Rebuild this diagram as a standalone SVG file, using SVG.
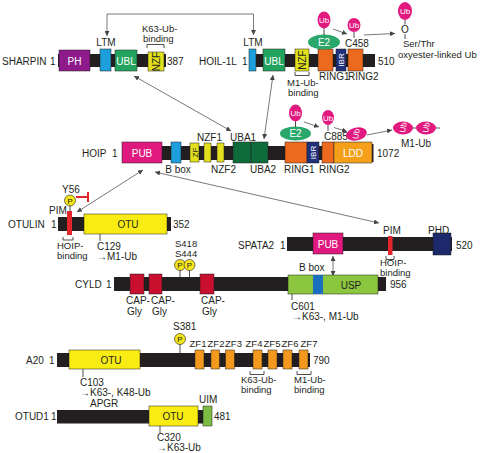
<svg xmlns="http://www.w3.org/2000/svg" width="480" height="453" viewBox="0 0 480 453">
<defs>
<marker id="ah" viewBox="0 0 6 6" refX="6" refY="3" markerWidth="5" markerHeight="5" orient="auto-start-reverse" markerUnits="userSpaceOnUse"><path d="M0,0 L6,3 L0,6 Z" fill="#444"/></marker>
<style>
text{font-family:"Liberation Sans",Arial,Helvetica,sans-serif;font-size:10px;fill:#231f20}
.w{fill:#fff}
.s{font-size:8px}
.n{font-size:9.5px}
.bar{fill:#231f20}
.d{stroke:#231f20;stroke-width:0.5}
.ln{stroke:#231f20;stroke-width:0.8;fill:none}
.cn{stroke:#555;stroke-width:0.8;fill:none;marker-start:url(#ah);marker-end:url(#ah)}
.ar{stroke:#555;stroke-width:0.8;fill:none;marker-end:url(#ah)}
.ub{fill:#e2197f}
.p{fill:#f5e61c;stroke:#231f20;stroke-width:0.6}
.m{text-anchor:middle}
</style>
</defs>
<rect width="480" height="453" fill="#fff"/>

<g id="connectors">
<path class="cn" d="M107,36 V14 H253.5 V35"/>
<path class="cn" d="M134,76 L231,131"/>
<path class="cn" d="M273,75 L264,139"/>
<path class="cn" d="M143,170 L77,212"/>
<path class="cn" d="M155,172 L379,223"/>
<path class="cn" d="M333,256 V276"/>
</g>

<g id="sharpin">
<text x="2" y="65">SHARPIN</text><text x="50" y="65">1</text>
<rect class="bar" x="58" y="54" width="108" height="13"/>
<rect class="d" x="59" y="50" width="31" height="21" fill="#8e1a8c"/>
<text class="w m" x="74.5" y="64.5">PH</text>
<rect class="d" x="100" y="49" width="11" height="22" fill="#1d9fdb"/>
<rect class="d" x="115" y="50" width="22" height="21" fill="#23a45e"/>
<text class="w m" x="126" y="64.5">UBL</text>
<rect class="d" x="148" y="52" width="16" height="19" fill="#e2e01c"/>
<text class="m" transform="translate(159.5,61.5) rotate(-90)">NZF</text>
<text x="167" y="65">387</text>
<text class="m" x="106" y="46">LTM</text>
<text class="n" x="142" y="32">K63-Ub-</text>
<text class="n" x="143" y="41.5">binding</text>
<path class="ln" d="M147,48 V44.5 H164 V48"/>
</g>

<g id="hoil1l">
<text x="199" y="65">HOIL-1L</text><text x="242" y="65">1</text>
<rect class="bar" x="249" y="54" width="126" height="13"/>
<rect class="d" x="249" y="49" width="7" height="22" fill="#1d9fdb"/>
<rect class="d" x="263" y="49" width="22" height="22" fill="#23a45e"/>
<text class="w m" x="274" y="64.5">UBL</text>
<rect class="d" x="295" y="49" width="14" height="22" fill="#e2e01c"/>
<text class="m" transform="translate(305.5,60) rotate(-90)">NZF</text>
<rect class="d" x="318" y="49" width="15" height="22" fill="#ec6a1d"/>
<rect class="d" x="336" y="49" width="10" height="22" fill="#21307a"/>
<text class="w m s" transform="translate(344,60) rotate(-90)">IBR</text>
<rect class="d" x="348" y="49" width="15" height="22" fill="#ec6a1d"/>
<text x="378" y="65">510</text>
<text class="m" x="253" y="46">LTM</text>
<text x="319" y="80">RING1</text>
<text x="348" y="80">RING2</text>
<path class="ln" d="M295,72 V75.5 H309 V72"/>
<text class="n" x="287" y="86">M1-Ub-</text>
<text class="n" x="288" y="96">binding</text>
<ellipse cx="324" cy="42" rx="16" ry="7.5" fill="#2aa76a"/>
<text class="w m" x="324" y="46">E2</text>
<line class="ln" x1="324" y1="28" x2="324" y2="35"/>
<ellipse class="ub" cx="324" cy="20" rx="6.5" ry="8.5"/>
<text class="w m s" x="324" y="23">Ub</text>
<path class="ar" d="M333,29 L347,34"/>
<ellipse class="ub" cx="354" cy="25" rx="6.5" ry="7"/>
<text class="w m s" x="354" y="28">Ub</text>
<line class="ln" x1="354" y1="32" x2="354" y2="38"/>
<text x="345" y="47">C458</text>
<path class="ar" d="M364,35 L395,33.5"/>
<ellipse class="ub" cx="405" cy="11" rx="7" ry="9"/>
<text class="w m s" x="405" y="14">Ub</text>
<line class="ln" x1="405" y1="20" x2="405" y2="24.5"/>
<text class="m" x="405" y="32.5">O</text>
<line class="ln" x1="405" y1="34" x2="405" y2="39"/>
<text class="n" x="403" y="47">Ser/Thr</text>
<text class="n" x="398" y="57.5">oxyester-linked Ub</text>
</g>

<g id="hoip">
<text x="82" y="157">HOIP</text><text x="112" y="157">1</text>
<rect class="bar" x="162" y="146" width="211" height="14"/>
<rect class="d" x="122" y="142" width="40" height="21" fill="#e0197e"/>
<text class="w m" x="142" y="156.5">PUB</text>
<rect class="d" x="171" y="142" width="10" height="21" fill="#1d9fdb"/>
<rect class="d" x="190" y="143" width="9" height="19" fill="#e2e01c"/>
<text class="m s" transform="translate(197.5,152.5) rotate(-90)">ZF</text>
<rect class="d" x="204" y="143" width="7" height="19" fill="#e2e01c"/>
<rect class="d" x="217" y="143" width="7" height="19" fill="#e2e01c"/>
<rect class="d" x="233" y="142" width="18" height="21" fill="#0e6b3a"/>
<rect class="d" x="251" y="142" width="17" height="21" fill="#0e6b3a"/>
<rect class="d" x="285" y="142" width="22" height="21" fill="#ec6a1d"/>
<rect class="d" x="307" y="142" width="12" height="21" fill="#21307a"/>
<text class="w m s" transform="translate(316,152.5) rotate(-90)">IBR</text>
<rect class="d" x="322" y="142" width="12" height="21" fill="#ec6a1d"/>
<rect class="d" x="334" y="142" width="38" height="21" fill="#f5a01b"/>
<text class="w m" x="353" y="156.5">LDD</text>
<rect class="bar" x="372" y="144" width="1.5" height="18"/>
<text x="377" y="157">1072</text>
<text class="m" x="178" y="173">B box</text>
<text x="197" y="141">NZF1</text>
<text x="230" y="141">UBA1</text>
<text x="211" y="173">NZF2</text>
<text x="250" y="173">UBA2</text>
<text x="284" y="173">RING1</text>
<text x="319" y="173">RING2</text>
<ellipse cx="295.5" cy="133.5" rx="15.5" ry="7" fill="#2aa76a"/>
<text class="w m" x="295.5" y="137">E2</text>
<line class="ln" x1="295.5" y1="121" x2="295.5" y2="127"/>
<ellipse class="ub" cx="295.5" cy="113" rx="6.5" ry="8.5"/>
<text class="w m s" x="295.5" y="116">Ub</text>
<path class="ar" d="M304,122 L319,127"/>
<ellipse class="ub" cx="328" cy="117.5" rx="6" ry="7.5"/>
<text class="w m s" x="328" y="120.5">Ub</text>
<line class="ln" x1="328" y1="125" x2="328" y2="131"/>
<text x="324" y="140">C885</text>
<path class="ar" d="M334,127.5 L347,131.5"/>
<ellipse class="ub" cx="356.5" cy="134" rx="10.5" ry="6.5" transform="rotate(-12 356.5 134)"/>
<text class="w m s" transform="translate(359,134.5) rotate(-80)">Ub</text>
<path class="ar" d="M367,135 L392,130"/>
<ellipse class="ub" cx="403" cy="128" rx="10" ry="6.5"/>
<text class="w m s" transform="translate(406,128) rotate(-80)">Ub</text>
<line class="ln" x1="413" y1="128" x2="416" y2="128"/>
<ellipse class="ub" cx="426" cy="128" rx="10" ry="6.5"/>
<text class="w m s" transform="translate(429,128) rotate(-80)">Ub</text>
<line class="ln" x1="436" y1="128" x2="440" y2="128"/>
<text x="401" y="147">M1-Ub</text>
</g>

<g id="otulin">
<text x="8" y="228">OTULIN</text><text x="51" y="228">1</text>
<rect class="bar" x="58" y="217" width="113" height="14"/>
<rect class="d" x="84" y="214" width="83" height="20" fill="#f9ec12"/>
<text class="m" x="128" y="228">OTU</text>
<rect x="67" y="211" width="5" height="24" fill="#e2262b"/>
<text x="173" y="228">352</text>
<text x="49" y="214">PIM</text>
<line class="ln" x1="70" y1="206" x2="70" y2="211"/>
<circle class="p" cx="70" cy="200.5" r="5.5"/>
<text class="m s" x="70" y="203.5">P</text>
<text x="62" y="193">Y56</text>
<path d="M76,197 H88 M88,192 V202" stroke="#e2262b" stroke-width="2" fill="none"/>
<path class="ln" d="M63,237 V240 H73 V237"/>
<text class="n" x="57" y="249">HOIP-</text>
<text class="n" x="57" y="258.5">binding</text>
<line class="ln" x1="100" y1="234" x2="100" y2="241"/>
<text x="97" y="250">C129</text>
<text x="97" y="260">→M1-Ub</text>
</g>

<g id="spata2">
<text x="238" y="249">SPATA2</text><text x="280" y="249">1</text>
<rect class="bar" x="287" y="237" width="165" height="14"/>
<rect class="d" x="313" y="233" width="30" height="21" fill="#e0197e"/>
<text class="w m" x="328" y="247.5">PUB</text>
<rect x="388" y="236" width="4.5" height="19" fill="#e2262b"/>
<rect class="d" x="433" y="233" width="18" height="22" fill="#1c2a6c"/>
<text x="456" y="249">520</text>
<text x="383" y="234">PIM</text>
<text x="428" y="234">PHD</text>
<path class="ln" d="M386,256 V259.5 H394 V256"/>
<text class="n" x="380" y="266">HOIP-</text>
<text class="n" x="380" y="275.5">binding</text>
</g>

<g id="cyld">
<text x="75" y="288">CYLD</text><text x="106" y="288">1</text>
<rect class="bar" x="114" y="277" width="272" height="14"/>
<rect class="d" x="130" y="274" width="14" height="20" fill="#c8102e"/>
<rect class="d" x="149" y="274" width="13" height="20" fill="#c8102e"/>
<rect class="d" x="200" y="274" width="14" height="20" fill="#c8102e"/>
<text x="126" y="304">CAP-</text><text x="127" y="315">Gly</text>
<text x="151" y="304">CAP-</text><text x="152" y="315">Gly</text>
<text x="201" y="304">CAP-</text><text x="202" y="315">Gly</text>
<line class="ln" x1="180" y1="270" x2="180" y2="277"/>
<line class="ln" x1="189.5" y1="270" x2="189.5" y2="277"/>
<circle class="p" cx="180" cy="265" r="5.5"/>
<text class="m s" x="180" y="268">P</text>
<circle class="p" cx="189.5" cy="265" r="5.5"/>
<text class="m s" x="189.5" y="268">P</text>
<text class="n" x="175" y="247">S418</text>
<text class="n" x="175" y="256.5">S444</text>
<rect class="d" x="288" y="275" width="90" height="19" fill="#8cc63f"/>
<rect x="313" y="275" width="10" height="19" fill="#1c6fbf"/>
<text class="m" x="351" y="289">USP</text>
<text x="390" y="288">956</text>
<text x="299" y="271">B box</text>
<line class="ln" x1="292" y1="294" x2="292" y2="300"/>
<text x="291" y="310">C601</text>
<text x="292" y="320">→K63-, M1-Ub</text>
</g>

<g id="a20">
<text x="26" y="364">A20</text><text x="49" y="364">1</text>
<rect class="bar" x="57" y="353" width="253" height="14"/>
<rect class="d" x="69" y="350" width="71" height="19" fill="#f9ec12"/>
<text class="m" x="111" y="364">OTU</text>
<rect class="d" x="195" y="350" width="9" height="19" fill="#f39a1e"/>
<rect class="d" x="211" y="350" width="8.5" height="19" fill="#f39a1e"/>
<rect class="d" x="225.5" y="350" width="9" height="19" fill="#f39a1e"/>
<rect class="d" x="253" y="350" width="9" height="19" fill="#f39a1e"/>
<rect class="d" x="268" y="350" width="9" height="19" fill="#f39a1e"/>
<rect class="d" x="283" y="350" width="9" height="19" fill="#f39a1e"/>
<rect class="d" x="299" y="350" width="9" height="19" fill="#f39a1e"/>
<text class="m n" x="198" y="347">ZF1</text>
<text class="m n" x="216" y="347">ZF2</text>
<text class="m n" x="233.5" y="347">ZF3</text>
<text class="m n" x="254" y="347">ZF4</text>
<text class="m n" x="272" y="347">ZF5</text>
<text class="m n" x="290" y="347">ZF6</text>
<text class="m n" x="309" y="347">ZF7</text>
<text x="313" y="364">790</text>
<line class="ln" x1="180" y1="344" x2="180" y2="353"/>
<circle class="p" cx="180" cy="339" r="5.5"/>
<text class="m s" x="180" y="342">P</text>
<text x="173" y="330">S381</text>
<line class="ln" x1="83" y1="369" x2="83" y2="377"/>
<text x="80" y="386">C103</text>
<text x="80" y="396">→K63-, K48-Ub</text>
<path class="ln" d="M250,371 V374.5 H264 V371"/>
<path class="ln" d="M297,371 V374.5 H311 V371"/>
<text class="n" x="241" y="383">K63-Ub-</text>
<text class="n" x="241" y="392.5">binding</text>
<text class="n" x="294" y="383">M1-Ub-</text>
<text class="n" x="294" y="392.5">binding</text>
</g>

<g id="otud1">
<text x="15" y="420">OTUD1</text><text x="51" y="420">1</text>
<rect class="bar" x="57" y="410" width="155" height="13.5"/>
<rect class="d" x="149" y="406" width="49" height="20" fill="#f9ec12"/>
<text class="m" x="173" y="420">OTU</text>
<rect class="d" x="203" y="406" width="9" height="20" fill="#7dbc42"/>
<text x="214" y="420">481</text>
<text x="90" y="407">APGR</text>
<text x="199" y="403">UIM</text>
<line class="ln" x1="160" y1="426" x2="160" y2="433"/>
<text x="157" y="441">C320</text>
<text x="157" y="451">→K63-Ub</text>
</g>
</svg>
